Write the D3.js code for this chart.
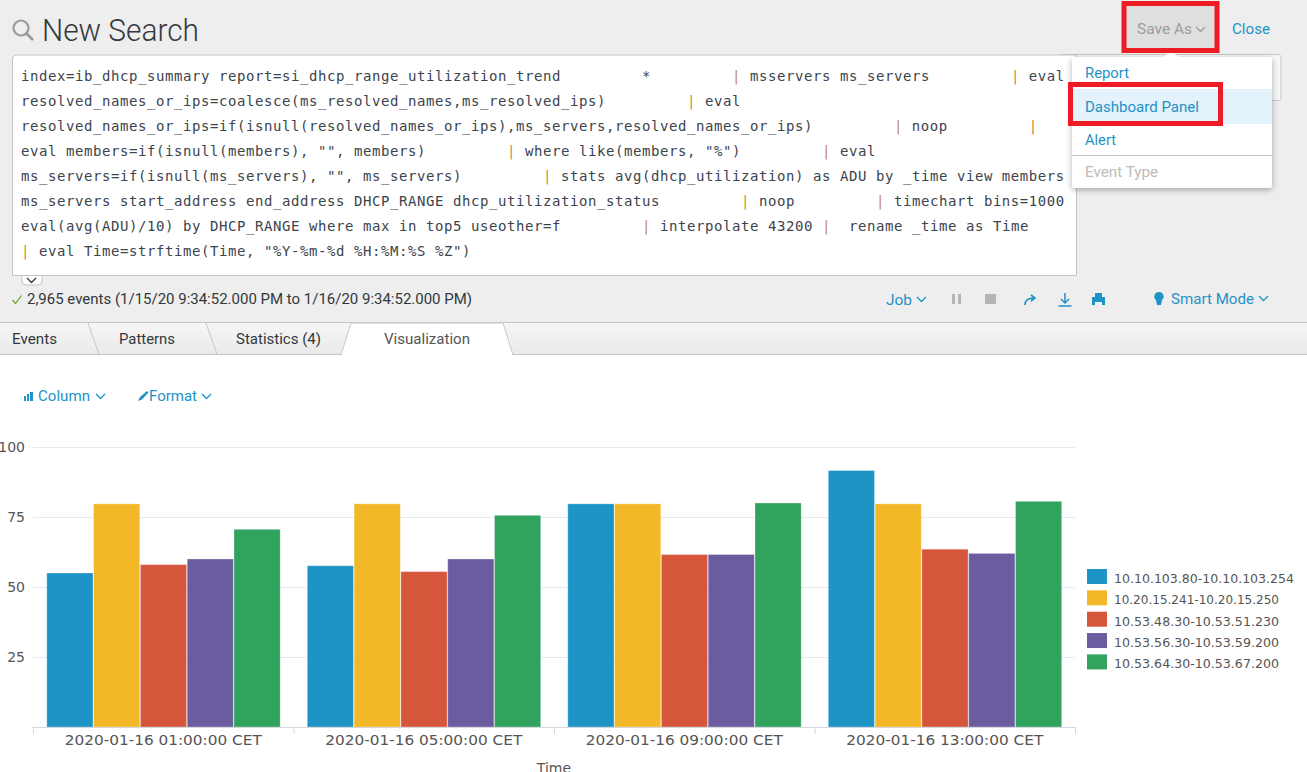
<!DOCTYPE html>
<html>
<head>
<meta charset="utf-8">
<title>New Search</title>
<script src="https://cdn.jsdelivr.net/npm/d3@7"></script>
<style>
  html, body { margin: 0; padding: 0; background: #fff; overflow: hidden; }
  svg { display: block; }
  text { font-family: Roboto, sans-serif; }
  .code { font-family: "DejaVu Sans Mono", monospace; font-size: 14px; fill: #3c444d; white-space: pre; }
  .chart text { font-family: "DejaVu Sans", sans-serif; fill: #555; }
</style>
</head>
<body>
<svg id="canvas" width="1307" height="772"></svg>
<script>
let times = ['2020-01-16 01:00:00 CET', '2020-01-16 05:00:00 CET', '2020-01-16 09:00:00 CET', '2020-01-16 13:00:00 CET']
let ranges = ['10.10.103.80-10.10.103.254', '10.20.15.241-10.20.15.250', '10.53.48.30-10.53.51.230', '10.53.56.30-10.53.59.200', '10.53.64.30-10.53.67.200']
let colors = ['#1e93c6', '#f2b827', '#d6563c', '#6a5c9e', '#31a35f']

let range1 = [55, 57.6, 79.7, 91.6]
let range2 = [79.7, 79.7, 79.7, 79.7]
let range3 = [58, 55.5, 61.6, 63.5]
let range4 = [60, 60, 61.6, 62]
let range5 = [70.6, 75.6, 80, 80.6]
let allSeries = [range1, range2, range3, range4, range5]

let yTicks = [25, 50, 75, 100]

let searchLines = [
  'index=ib_dhcp_summary report=si_dhcp_range_utilization_trend         *         | msservers ms_servers         | eval',
  'resolved_names_or_ips=coalesce(ms_resolved_names,ms_resolved_ips)         | eval',
  'resolved_names_or_ips=if(isnull(resolved_names_or_ips),ms_servers,resolved_names_or_ips)         | noop         |',
  'eval members=if(isnull(members), "", members)         | where like(members, "%")         | eval',
  'ms_servers=if(isnull(ms_servers), "", ms_servers)         | stats avg(dhcp_utilization) as ADU by _time view members',
  'ms_servers start_address end_address DHCP_RANGE dhcp_utilization_status         | noop         | timechart bins=1000',
  'eval(avg(ADU)/10) by DHCP_RANGE where max in top5 useother=f         | interpolate 43200 |  rename _time as Time',
  '| eval Time=strftime(Time, "%Y-%m-%d %H:%M:%S %Z")'
]

let menuItems = ['Report', 'Dashboard Panel', 'Alert', 'Event Type']
let tabs = ['Events', 'Patterns', 'Statistics (4)', 'Visualization']

let canvas = d3.select('#canvas')

let defs = canvas.append('defs')
let shadow = defs.append('filter').attr('id', 'menuShadow')
  .attr('x', '-10%').attr('y', '-10%').attr('width', '120%').attr('height', '125%')
shadow.append('feDropShadow').attr('dx', 0).attr('dy', 2).attr('stdDeviation', 3)
  .attr('flood-color', '#000').attr('flood-opacity', 0.3)

let label = (parent, str, x, y, size, color, width, weight) => {
  let t = parent.append('text')
    .attr('x', x).attr('y', y)
    .attr('font-size', size)
    .attr('fill', color)
    .attr('font-weight', weight || 400)
    .text(str)
  if (width) {
    t.attr('textLength', width).attr('lengthAdjust', 'spacingAndGlyphs')
  }
  return t
}

let chevron = (parent, x, y, color) => {
  parent.append('path')
    .attr('d', 'M' + x + ' ' + y + 'l4.5 4.5l4.5 -4.5')
    .attr('fill', 'none').attr('stroke', color).attr('stroke-width', 1.3)
}

let drawHeader = () => {
  let blue = '#1e93c6'
  let head = canvas.append('g')
  head.append('rect').attr('width', 1307).attr('height', 323).attr('fill', '#eeeeee')

  // magnifier
  head.append('circle').attr('cx', 21).attr('cy', 28).attr('r', 7.5)
    .attr('fill', 'none').attr('stroke', '#9a9a9a').attr('stroke-width', 2.2)
  head.append('line').attr('x1', 26.5).attr('y1', 33.5).attr('x2', 33).attr('y2', 40)
    .attr('stroke', '#9a9a9a').attr('stroke-width', 2.6)
  label(head, 'New Search', 42, 41, 31, '#33383d', 157, 300)

  // save as / close
  head.append('rect').attr('x', 1124).attr('y', 4).attr('width', 93).attr('height', 46).attr('fill', '#dfdfdf')
  label(head, 'Save As', 1137, 34, 15, '#9c9c9c', 55)
  chevron(head, 1196, 27, '#9c9c9c')
  label(head, 'Close', 1232, 34, 15, blue, 38)

  // time picker peeking out behind the menu
  head.append('rect').attr('x', 1060).attr('y', 54.5).attr('width', 221).attr('height', 46).attr('rx', 3)
    .attr('fill', '#f6f6f6').attr('stroke', '#c6c6c6')

  // search box
  head.append('path')
    .attr('d', 'M12.5 275.5V59a4 4 0 0 1 4 -4H1076.5V275.5Z')
    .attr('fill', '#fff').attr('stroke', '#c3c3c3')

  let code = head.append('g')
  searchLines.forEach((line, i) => {
    let t = code.append('text')
      .attr('class', 'code')
      .attr('x', 21).attr('y', 81 + i * 25)
      .attr('xml:space', 'preserve')
      .attr('letter-spacing', 0.57)
    line.split(/(\|)/).forEach((part) => {
      t.append('tspan').attr('fill', part === '|' ? '#c8873f' : '#3c444d').text(part)
    })
  })

  // expander under the box
  head.append('path').attr('d', 'M22 276v5a4 4 0 0 0 4 4h12a4 4 0 0 0 4 -4v-5')
    .attr('fill', '#fff').attr('stroke', '#c3c3c3')
  chevron(head, 27, 278, '#33383d')

  // status line
  head.append('path').attr('d', 'M12.5 300l3 3.5l6 -8').attr('fill', 'none').attr('stroke', '#65a637').attr('stroke-width', 1.2)
  label(head, '2,965 events (1/15/20 9:34:52.000 PM to 1/16/20 9:34:52.000 PM)', 27, 304, 15.5, '#33383d', 445)

  // job controls
  label(head, 'Job', 886, 305, 15, blue, 26)
  chevron(head, 917, 297, blue)
  head.append('rect').attr('x', 952).attr('y', 294).attr('width', 3).attr('height', 10).attr('fill', '#b5b5b5')
  head.append('rect').attr('x', 958).attr('y', 294).attr('width', 3).attr('height', 10).attr('fill', '#b5b5b5')
  head.append('rect').attr('x', 985).attr('y', 294).attr('width', 11).attr('height', 10).attr('fill', '#b5b5b5')
  head.append('path').attr('d', 'M1025 305c0 -5 3 -7 9 -7m-3 -3l4 3l-4 3')
    .attr('fill', 'none').attr('stroke', blue).attr('stroke-width', 1.6)
  head.append('path').attr('d', 'M1065 293v10m-4 -4l4 4l4 -4M1058.5 306h13')
    .attr('fill', 'none').attr('stroke', blue).attr('stroke-width', 1.5)
  head.append('path').attr('d', 'M1095 293h7v4h3v8h-3v-3h-7v3h-3v-8h3Z').attr('fill', blue)
  head.append('path').attr('d', 'M1159 292a4.5 4.5 0 0 1 3 8l-1 5h-4l-1 -5a4.5 4.5 0 0 1 3 -8Z').attr('fill', blue)
  label(head, 'Smart Mode', 1171, 304, 15, blue, 83)
  chevron(head, 1259, 296, blue)

  // dropdown menu
  let menu = canvas.append('g')
  menu.append('rect').attr('x', 1072).attr('y', 57).attr('width', 200).attr('height', 131).attr('rx', 3)
    .attr('fill', '#fff').attr('filter', 'url(#menuShadow)')
  menu.append('path').attr('d', 'M1163 57l8 -6l8 6Z').attr('fill', '#fff')
  menu.append('rect').attr('x', 1073).attr('y', 89).attr('width', 199).attr('height', 35).attr('fill', '#e4f2fb')
  menu.append('line').attr('x1', 1072).attr('x2', 1272).attr('y1', 155.5).attr('y2', 155.5).attr('stroke', '#c6c6c6')
  let menuY = [78, 112, 145, 177]
  let menuW = [44, 114, 31, 73]
  menuItems.forEach((item, i) => {
    label(menu, item, 1085, menuY[i], 15, i === 3 ? '#bcbcbc' : blue, menuW[i])
  })

  // red callouts
  let red = '#ed1c24'
  menu.append('rect').attr('x', 1124).attr('y', 3.5).attr('width', 93).attr('height', 47)
    .attr('fill', 'none').attr('stroke', red).attr('stroke-width', 5)
  menu.append('rect').attr('x', 1070.5).attr('y', 84.5).attr('width', 150).attr('height', 39)
    .attr('fill', 'none').attr('stroke', red).attr('stroke-width', 5)
}

let drawTabs = () => {
  let bar = canvas.append('g')
  let grad = defs.append('linearGradient').attr('id', 'tabBar').attr('x1', 0).attr('x2', 0).attr('y1', 0).attr('y2', 1)
  grad.append('stop').attr('offset', 0).attr('stop-color', '#f6f6f6')
  grad.append('stop').attr('offset', 1).attr('stop-color', '#eaeaea')
  bar.append('rect').attr('y', 323).attr('width', 1307).attr('height', 31).attr('fill', 'url(#tabBar)')
  bar.append('line').attr('x1', 0).attr('x2', 1307).attr('y1', 322.5).attr('y2', 322.5).attr('stroke', '#c6c6c6')
  bar.append('line').attr('x1', 0).attr('x2', 1307).attr('y1', 354.5).attr('y2', 354.5).attr('stroke', '#c6c6c6')

  // active tab
  bar.append('path').attr('d', 'M341 355L351 323H503L513 355Z').attr('fill', '#fff')
  bar.append('path').attr('d', 'M341 355L351 323H503L513 355').attr('fill', 'none').attr('stroke', '#c6c6c6')
  bar.append('path').attr('d', 'M88 323L99 354M206 323L217 354').attr('fill', 'none').attr('stroke', '#c6c6c6')

  let tabX = [12, 119, 236, 384]
  let tabW = [45, 56, 85, 86]
  tabs.forEach((tab, i) => {
    label(bar, tab, tabX[i], 344, 15, i === 3 ? '#555' : '#33383d', tabW[i])
  })
}

let drawChart = () => {
  let blue = '#1e93c6'
  let tools = canvas.append('g')
  tools.append('rect').attr('x', 24).attr('y', 396).attr('width', 2).attr('height', 5).attr('fill', blue)
  tools.append('rect').attr('x', 27).attr('y', 394).attr('width', 2).attr('height', 7).attr('fill', blue)
  tools.append('rect').attr('x', 30).attr('y', 392).attr('width', 3).attr('height', 9).attr('fill', blue)
  label(tools, 'Column', 38, 401, 15, blue, 52)
  chevron(tools, 96, 394, blue)
  tools.append('path').attr('d', 'M138 401l2 -4l7 -6l1.5 1.5l-6.5 7Z').attr('fill', blue)
  label(tools, 'Format', 149, 401, 15, blue, 48)
  chevron(tools, 202, 394, blue)

  let chart = canvas.append('g').attr('class', 'chart')

  let xScale = d3.scaleBand().domain(times).range([33, 1075])
  let seriesScale = d3.scaleBand().domain(ranges).range([14, 248])
  let yScale = d3.scaleLinear().domain([0, 100]).range([727, 447])

  let yAxis = d3.axisLeft(yScale)
    .tickValues(yTicks)
    .tickSize(-(1075 - 33))
    .tickPadding(8)
  let yG = chart.append('g').attr('transform', 'translate(33,0)').call(yAxis)
  yG.select('.domain').remove()
  yG.selectAll('.tick line').attr('stroke', '#e8e9ec')
  yG.selectAll('text').attr('font-size', 14)

  ranges.forEach((name, s) => {
    chart.append('g')
      .selectAll('rect')
      .data(allSeries[s])
      .enter()
      .append('rect')
      .attr('x', (d, i) => xScale(times[i]) + seriesScale(name) - 0.2)
      .attr('y', (d) => yScale(d))
      .attr('width', seriesScale.bandwidth() - 0.6)
      .attr('height', (d) => yScale(0) - yScale(d))
      .attr('fill', colors[s])
      .attr('stroke', '#fff')
      .attr('stroke-opacity', 0.3)
  })

  let xAxis = d3.axisBottom(xScale).tickSize(0).tickPadding(6)
  let xG = chart.append('g').attr('transform', 'translate(0,727)').call(xAxis)
  xG.select('.domain').remove()
  xG.selectAll('text')
    .attr('font-size', 14.5)
    .attr('dy', '0.8em')
    .attr('textLength', 197)
    .attr('lengthAdjust', 'spacingAndGlyphs')
  xG.append('line').attr('x1', 32).attr('x2', 1076).attr('y1', 0.5).attr('y2', 0.5).attr('stroke', '#d5d7de')
  times.concat([null]).forEach((t) => {
    let x = (t ? xScale(t) : 1075) + 0.5
    xG.append('line').attr('x1', x).attr('x2', x).attr('y1', 0).attr('y2', 7).attr('stroke', '#d5d7de')
  })

  chart.append('text')
    .attr('x', 554).attr('y', 773)
    .attr('text-anchor', 'middle')
    .attr('font-size', 14)
    .text('Time')

  let legendW = [180, 165, 165, 165, 165]
  let legend = chart.append('g').selectAll('g')
    .data(ranges)
    .enter()
    .append('g')
    .attr('transform', (d, i) => 'translate(1087,' + (569 + i * 21.35) + ')')
  legend.append('rect')
    .attr('width', 20).attr('height', 15)
    .attr('fill', (d, i) => colors[i])
  legend.append('text')
    .attr('x', 27).attr('y', 14)
    .attr('font-size', 13)
    .attr('textLength', (d, i) => legendW[i])
    .attr('lengthAdjust', 'spacingAndGlyphs')
    .text((d) => d)
}

drawHeader()
drawTabs()
drawChart()
</script>
</body>
</html>
